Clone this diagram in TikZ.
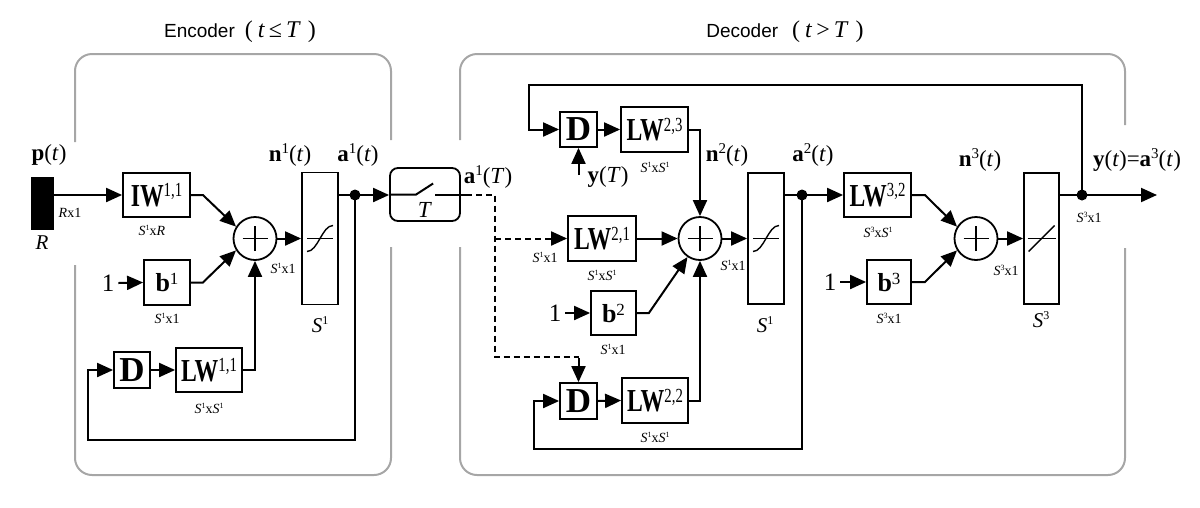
\documentclass[tikz,border=0pt]{standalone}
\usepackage{fontspec}
\setmainfont{Liberation Serif}
\newfontfamily\titlefont{Liberation Sans}
\newfontfamily\narrowserif[FakeStretch=0.74]{Liberation Serif}
\usetikzlibrary{arrows.meta,calc}
\newcommand{\fs}[1]{\fontsize{#1}{#1}\selectfont}
% weight label
\newcommand{\wl}[2]{{\narrowserif\fs{32}\textbf{#1}\raisebox{9.5pt}{\fs{20}#2}}}
% bias label
\newcommand{\bl}[2]{{\fs{26}\textbf{#1}\raisebox{7pt}{\fs{17}#2}}}
% signal label
\newcommand{\sg}[3]{{\fs{23}\textbf{#1}\raisebox{7.5pt}{\fs{15}#2}(\textit{#3})}}
% small superscript
\newcommand{\tsp}[1]{\raisebox{5pt}{\fs{8}#1}}
\newcommand{\dm}[1]{{\fs{14}#1}}
\begin{document}
\begin{tikzpicture}[x=1pt,y=-1pt,
  wire/.style={line width=2pt},
  arr/.style={-{Triangle[length=16pt,width=14pt]}},
  wb/.style n args={2}{draw,line width=1.8pt,inner sep=0pt,minimum width=#1,minimum height=#2,fill=white},
  sumst/.style={circle,draw,line width=1.8pt,minimum size=43pt,inner sep=0pt,fill=white,
    path picture={\draw[line width=1.8pt] ([xshift=-12.5pt]path picture bounding box.center) -- ([xshift=12.5pt]path picture bounding box.center);
                  \draw[line width=1.8pt] ([yshift=-12.5pt]path picture bounding box.center) -- ([yshift=12.5pt]path picture bounding box.center);}},
  grp/.style={draw=black!35,line width=2pt,rounded corners=17pt},
  lbl/.style={inner sep=0pt}]
\useasboundingbox (0,0) rectangle (1200,507);

% group frames
\draw[grp] (75,142) -- (75,54) -- (391,54) -- (391,140);
\draw[grp] (391,247) -- (391,475) -- (75,475) -- (75,265);
\draw[grp] (460,140) -- (460,54) -- (1125,54) -- (1125,125);
\draw[grp] (1125,248) -- (1125,475) -- (460,475) -- (460,247);
\node[lbl] (tenc) at (240,32) {{\titlefont\fs{19}Encoder}\hspace{10pt}{\fs{24}(\hspace{5pt}\textit{t}\hspace{4pt}≤\hspace{4pt}\textit{T}\hspace{7pt})}};
\node[lbl] (tdec) at (785,32) {{\titlefont\fs{19}Decoder}\hspace{14pt}{\fs{24}(\hspace{5pt}\textit{t}\hspace{4pt}>\hspace{4pt}\textit{T}\hspace{7pt})}};

% ---------- encoder ----------
\node[fill=black,minimum width=23pt,minimum height=53pt,inner sep=0pt] (inp) at (42.5,203.5) {};
\node[lbl] (pl) at (49,155) {\sg{p}{}{t}};
\node[lbl] (rx1) at (70,213) {\dm{\textit{R}x1}};
\node[lbl] (rl) at (42,243) {\fs{21}\textit{R}};
\node[wb={67pt}{44pt}] (iw) at (156.5,195) {\wl{IW}{1,1}};
\node[lbl] (iwd) at (152,230) {\dm{\textit{S}\tsp{1}x\textit{R}}};
\node[wb={46pt}{45pt}] (b1) at (167,282.5) {\bl{b}{1}};
\node[lbl] (b1d) at (167,318) {\dm{\textit{S}\tsp{1}x1}};
\node[lbl] (one1) at (108,283) {\fs{25}1};
\node[sumst] (sum1) at (255,238.5) {};
\node[lbl] (s1d) at (283,268) {\dm{\textit{S}\tsp{1}x1}};
\node[wb={36pt}{132pt}] (f1) at (320,238.5) {};
\node[lbl] (f1d) at (320,325) {\fs{21}\textit{S}\raisebox{8pt}{\fs{12}1}};
\node[lbl] (n1l) at (290,155) {\sg{n}{1}{t}};
\node[lbl] (a1l) at (358,155) {\sg{a}{1}{t}};
\coordinate (dot1) at (355,195);
\node[wb={70pt}{53pt},rounded corners=8pt] (sw) at (425,194.5) {};
\node[lbl] (swT) at (425,210) {\fs{23}\textit{T}};
\node[lbl] (a1T) at (488,177) {\sg{a}{1}{T}};
\node[wb={36pt}{36pt}] (d1) at (132,370) {\fs{35}\textbf{D}};
\node[wb={66pt}{44pt}] (lw11) at (209,370) {\wl{LW}{1,1}};
\node[lbl] (lw11d) at (209,408) {\dm{\textit{S}\tsp{1}x\textit{S}\tsp{1}}};
\coordinate (fb1) at (88,440);

% transfer symbols
\draw[line width=1.4pt] ($(f1)+(-13,0)$) -- ($(f1)+(13,0)$);
\draw[line width=1.4pt] ($(f1)+(-13,13)$) .. controls ($(f1)+(-2,13)$) and ($(f1)+(2,-13)$) .. ($(f1)+(13,-13)$);

% encoder wires
\draw[wire,arr] (inp.east |- iw.west) -- (iw.west);
\draw[wire,arr] (iw.east) -- ++(12,0) -- (sum1.148);
\draw[wire,arr] ([xshift=4pt]one1.east) -- (b1.west);
\draw[wire,arr] (b1.east) -- ++(12,0) -- (sum1.212);
\draw[wire,arr] (sum1.east) -- (f1.west |- sum1);
\draw[wire] (f1.east |- dot1) -- (dot1);
\draw[wire,arr] (dot1) -- (sw.west |- dot1);
\fill (dot1) circle[radius=5.5pt];
\draw[wire,arr] (dot1) -- (dot1 |- fb1) -- (fb1) -- (fb1 |- d1) -- (d1.west);
\draw[wire,arr] (d1.east) -- (lw11.west);
\draw[wire,arr] (lw11.east) -- (sum1 |- lw11) -- (sum1.south);

% switch
\draw[wire] (sw.west) -- ++(27,0) -- ++(17,-11);
\draw[wire] ($(sw)+(10,0)$) -- (sw.east);

% ---------- decoder ----------
\coordinate (swout) at (466,194.5);
\coordinate (dsplit) at (495,194.5);
\coordinate (dcorner) at (495,357);
\node[wb={68pt}{45pt}] (lw21) at (602,238.5) {\wl{LW}{2,1}};
\node[lbl] (lw21d) at (602,275) {\dm{\textit{S}\tsp{1}x\textit{S}\tsp{1}}};
\node[lbl] (lw21i) at (545,257) {\dm{\textit{S}\tsp{1}x1}};
\node[wb={45pt}{44pt}] (b2) at (613.5,313) {\bl{b}{2}};
\node[lbl] (b2d) at (613,349) {\dm{\textit{S}\tsp{1}x1}};
\node[lbl] (one2) at (555,313) {\fs{25}1};
\node[wb={37pt}{36pt}] (d2) at (578.5,401) {\fs{35}\textbf{D}};
\node[wb={66pt}{45pt}] (lw22) at (655,400.5) {\wl{LW}{2,2}};
\node[lbl] (lw22d) at (655,437) {\dm{\textit{S}\tsp{1}x\textit{S}\tsp{1}}};
\node[wb={37pt}{35pt}] (d3) at (578.5,129.5) {\fs{35}\textbf{D}};
\node[wb={67pt}{45pt}] (lw23) at (654.5,129.5) {\wl{LW}{2,3}};
\node[lbl] (lw23d) at (655,167) {\dm{\textit{S}\tsp{1}x\textit{S}\tsp{1}}};
\coordinate (yT) at (578.5,175);
\node[lbl] (yTl) at (608,177) {{\fs{23}\textbf{y}(\textit{T})}};
\node[sumst] (sum2) at (700,238.5) {};
\node[lbl] (n2l) at (727,155) {\sg{n}{2}{t}};
\node[lbl] (s2d) at (733,265) {\dm{\textit{S}\tsp{1}x1}};
\node[wb={36pt}{131pt}] (f2) at (766,238.5) {};
\node[lbl] (f2d) at (765,325) {\fs{21}\textit{S}\raisebox{8pt}{\fs{12}1}};
\node[lbl] (a2l) at (813,155) {\sg{a}{2}{t}};
\coordinate (dot2) at (802,195);
\coordinate (bf) at (534,449);
\coordinate (tf) at (529,85);
\node[wb={67pt}{44pt}] (lw32) at (877.5,195) {\wl{LW}{3,2}};
\node[lbl] (lw32d) at (878,232) {\dm{\textit{S}\tsp{3}x\textit{S}\tsp{1}}};
\node[wb={44pt}{44pt}] (b3) at (889,282) {\bl{b}{3}};
\node[lbl] (b3d) at (889,318) {\dm{\textit{S}\tsp{3}x1}};
\node[lbl] (one3) at (830,282) {\fs{25}1};
\node[sumst] (sum3) at (976,238.5) {};
\node[lbl] (n3l) at (980,160) {\sg{n}{3}{t}};
\node[lbl] (s3d) at (1006,270) {\dm{\textit{S}\tsp{3}x1}};
\node[wb={35pt}{131pt}] (f3) at (1041.5,238.5) {};
\node[lbl] (f3d) at (1041,320) {\fs{21}\textit{S}\raisebox{8pt}{\fs{12}3}};
\coordinate (dot3) at (1082,195);
\coordinate (out) at (1157,195);
\node[lbl] (yl) at (1137,160) {{\fs{23}\textbf{y}(\textit{t})=\textbf{a}\raisebox{7.5pt}{\fs{15}3}(\textit{t})}};
\node[lbl] (outd) at (1089,217) {\dm{\textit{S}\tsp{3}x1}};

% transfer symbols
\draw[line width=1.4pt] ($(f2)+(-13,0)$) -- ($(f2)+(13,0)$);
\draw[line width=1.4pt] ($(f2)+(-13,13)$) .. controls ($(f2)+(-2,13)$) and ($(f2)+(2,-13)$) .. ($(f2)+(13,-13)$);
\draw[line width=1.4pt] ($(f3)+(-14,0)$) -- ($(f3)+(14,0)$);
\draw[line width=1.4pt] ($(f3)+(-13,13)$) -- ($(f3)+(13,-13)$);

% decoder wires
\draw[wire] (sw.east) -- (swout);
\draw[wire,dash pattern=on 6pt off 4pt] (swout) -- (dsplit) -- (dcorner) -- (d2 |- dcorner);
\draw[wire,arr] ([yshift=-1pt]d2 |- dcorner) -- (d2.north);
\draw[wire,dash pattern=on 6pt off 4pt,arr] (dsplit |- lw21) -- (lw21.west);
\draw[wire,arr] (lw21.east) -- (sum2.west |- lw21);
\draw[wire,arr] ([xshift=4pt]one2.east) -- (b2.west);
\draw[wire,arr] (b2.east) -- ++(12,0) -- (sum2.236);
\draw[wire,arr] (d2.east) -- (lw22.west);
\draw[wire,arr] (lw22.east) -- (sum2 |- lw22) -- (sum2.south);
\draw[wire,arr] (d3.east) -- (lw23.west);
\draw[wire,arr] (lw23.east) -- (sum2 |- lw23) -- (sum2.north);
\draw[wire,arr] (yT) -- (d3.south);
\draw[wire,arr] (sum2.east) -- (f2.west |- sum2);
\draw[wire] (f2.east |- dot2) -- (dot2);
\draw[wire,arr] (dot2) -- (lw32.west);
\fill (dot2) circle[radius=5.5pt];
\draw[wire,arr] (dot2) -- (dot2 |- bf) -- (bf) -- (bf |- d2) -- (d2.west);
\draw[wire,arr] (lw32.east) -- ++(13,0) -- (sum3.148);
\draw[wire,arr] ([xshift=4pt]one3.east) -- (b3.west);
\draw[wire,arr] (b3.east) -- ++(13,0) -- (sum3.212);
\draw[wire,arr] (sum3.east) -- (f3.west |- sum3);
\draw[wire] (f3.east |- dot3) -- (dot3);
\draw[wire,arr] (dot3) -- (out);
\fill (dot3) circle[radius=5.5pt];
\draw[wire,arr] (dot3) -- (dot3 |- tf) -- (tf) -- (tf |- d3) -- (d3.west);
\end{tikzpicture}
\end{document}
